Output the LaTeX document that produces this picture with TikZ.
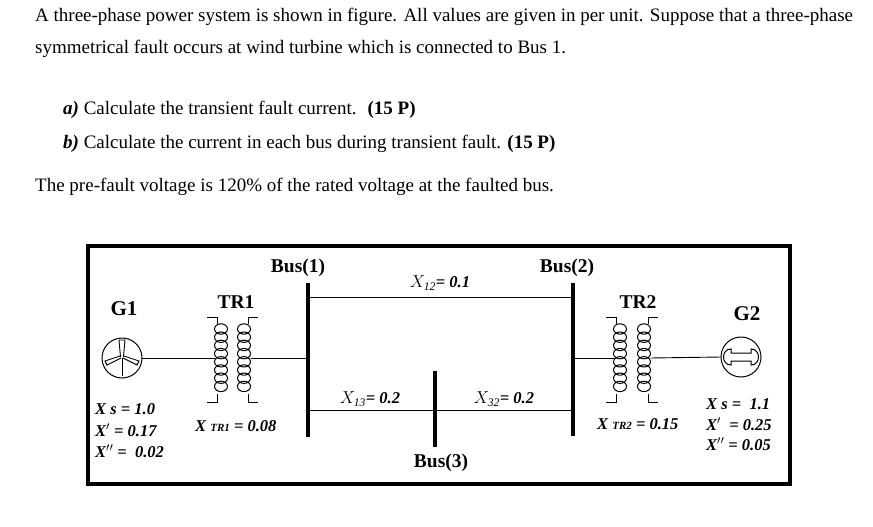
\documentclass[tikz,border=0pt]{standalone}
\usepackage{fontspec}
\setmainfont{Liberation Serif}
\begin{document}
\begin{tikzpicture}[x=1pt,y=-1pt,
  bus/.style={line width=3.2pt},
  wire/.style={line width=0.9pt},
  txt/.style={anchor=base west,inner sep=0pt,font=\fontsize{19}{21}\selectfont},
  lbl/.style={inner sep=0pt,font=\fontsize{19.5}{22}\selectfont\bfseries},
  val/.style={inner sep=0pt,font=\fontsize{16.5}{18}\selectfont\bfseries\itshape},
  coil/.style={line width=1pt}]
\useasboundingbox (0,0) rectangle (873,527);
\fill[white] (0,0) rectangle (873,527);
% text
\node[txt] (t1) at (35,22) {A three-phase power system is shown in figure. All values are given in per unit. Suppose that a three-phase};
\node[txt] (t2) at (35,54) {symmetrical fault occurs at wind turbine which is connected to Bus 1.};
\node[txt] (t3) at (63,114) {\textbf{\textit{a)}} Calculate the transient fault current. \ \textbf{(15 P)}};
\node[txt] (t4) at (63,148) {\textbf{\textit{b)}} Calculate the current in each bus during transient fault. \textbf{(15 P)}};
\node[txt] (t5) at (35,191) {The pre-fault voltage is 120\% of the rated voltage at the faulted bus.};
% frame
\draw[line width=3.5pt] (88,246) rectangle (790,484);
% buses
\coordinate (b1t) at (308,283); \coordinate (b1b) at (308,437);
\coordinate (b2t) at (573,283); \coordinate (b2b) at (573,436);
\coordinate (b3t) at (435,371); \coordinate (b3b) at (435,447);
\draw[bus] (b1t) -- (b1b);
\draw[bus] (b2t) -- (b2b);
\draw[bus] (b3t) -- (b3b);
\draw[wire] (308,297) -- (573,297);
\draw[wire] (308,410) -- (573,410);
% G1
\coordinate (g1) at (122,358);
\draw[line width=1pt] (g1) circle[radius=20];
\coordinate (g1e) at (142,358);
\draw[line width=0.9pt] (122,358) -- (122,376);
\draw[line width=0.9pt] (120.5,357) -- (119,340) -- (125,340) -- (123.5,357);
\draw[line width=0.9pt] (121,358) -- (107,365) -- (105,361) -- (120,356);
\draw[line width=0.9pt] (123,358) -- (137,365) -- (139,361) -- (124,356);
% TR1
\foreach \cx in {221,244}{
  \foreach \i in {0,...,7}{\draw[coil] (\cx,{329+\i*8.2}) ellipse (6.5 and 5.2);}
}
\draw[coil] (217,324) -- (217,317) -- (207,317);
\draw[coil] (217,394) -- (217,402) -- (207,402);
\draw[coil] (248,324) -- (248,317) -- (258,317);
\draw[coil] (248,394) -- (248,402) -- (258,402);
\coordinate (tr1a) at (214.5,358); \coordinate (tr1b) at (250.5,358);
\draw[wire] (g1e) -- (tr1a);
\draw[wire] (tr1b) -- (308,358);
% TR2
\foreach \cx in {620,644}{
  \foreach \i in {0,...,7}{\draw[coil] (\cx,{329+\i*8.2}) ellipse (6.5 and 5.2);}
}
\draw[coil] (616,324) -- (616,317) -- (606,317);
\draw[coil] (616,394) -- (616,402) -- (606,402);
\draw[coil] (648,324) -- (648,317) -- (658,317);
\draw[coil] (648,394) -- (648,402) -- (658,402);
\coordinate (tr2a) at (613.5,358); \coordinate (tr2b) at (650.5,358);
\draw[wire] (573,358) -- (tr2a);
% G2
\coordinate (g2) at (741,357);
\draw[line width=1pt] (g2) circle[radius=20];
\coordinate (g2w) at (721,357);
\draw[wire] (tr2b) -- (g2w);
\draw[line width=1pt] (731,349) .. controls (721,349) and (721,365) .. (731,365) -- (731,361) -- (751,361) -- (751,365) .. controls (761,365) and (761,349) .. (751,349) -- (751,353) -- (731,353) -- cycle;
% labels
\node[lbl] (lb1) at (298,268) {Bus(1)};
\node[lbl] (lb2) at (567,268) {Bus(2)};
\node[lbl] (lb3) at (441,463) {Bus(3)};
\node[lbl,font=\fontsize{21}{22}\selectfont\bfseries] (lg1) at (124,309) {G1};
\node[lbl] (ltr1) at (236,302) {TR1};
\node[lbl] (ltr2) at (638,302) {TR2};
\node[lbl,font=\fontsize{21}{22}\selectfont\bfseries] (lg2) at (747,314) {G2};
\node[val] (x12) at (440,283) {$X_{\mathit{12}}$= 0.1};
\node[val] (x13) at (370,399) {$X_{\mathit{13}}$= 0.2};
\node[val] (x32) at (504,399) {$X_{\mathit{32}}$= 0.2};
\node[val,anchor=west] (g1v1) at (95,409) {X s = 1.0};
\node[val,anchor=west] (g1v2) at (95,430) {X$'$ = 0.17};
\node[val,anchor=west] (g1v3) at (95,451) {X$''$ = \ 0.02};
\node[val,anchor=west] (tr1v) at (195,426) {X {\fontsize{11}{12}\selectfont TR1} = 0.08};
\node[val,anchor=west] (tr2v) at (597,424) {X {\fontsize{11}{12}\selectfont TR2} = 0.15};
\node[val,anchor=west] (g2v1) at (706,404) {X s = \ 1.1};
\node[val,anchor=west] (g2v2) at (706,424) {X$'$ \ = 0.25};
\node[val,anchor=west] (g2v3) at (706,444) {X$''$ = 0.05};
\end{tikzpicture}
\end{document}
